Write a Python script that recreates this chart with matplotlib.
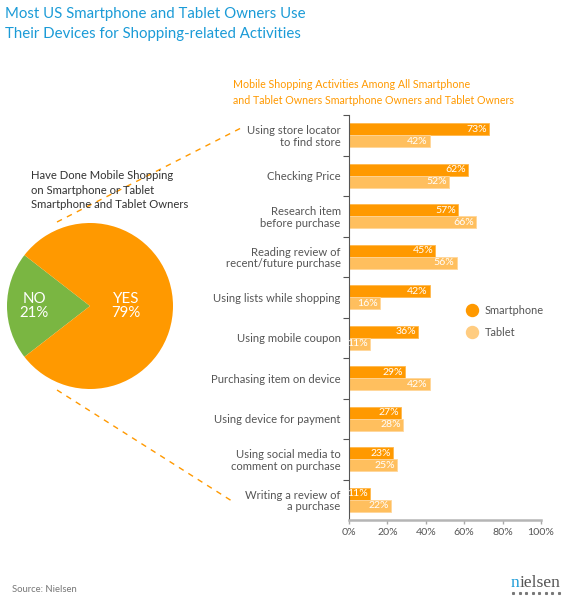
import matplotlib
matplotlib.use("Agg")
import matplotlib.pyplot as plt
from matplotlib.lines import Line2D
import numpy as np

W, H = 566, 599
plt.rcParams['font.family'] = ['Lato', 'DejaVu Sans']

categories = [
    "Using store locator\nto find store",
    "Checking Price",
    "Research item\nbefore purchase",
    "Reading review of\nrecent/future purchase",
    "Using lists while shopping",
    "Using mobile coupon",
    "Purchasing item on device",
    "Using device for payment",
    "Using social media to\ncomment on purchase",
    "Writing a review of\na purchase",
]
smartphone = [73, 62, 57, 45, 42, 36, 29, 27, 23, 11]
tablet = [42, 52, 66, 56, 16, 11, 42, 28, 25, 22]
xticks = [0, 20, 40, 60, 80, 100]
pie_labels = ["NO", "YES"]
pie_values = [21, 79]

C_SMART = '#FF9900'
C_TAB = '#FFBF5E'
C_GREEN = '#7AB642'
C_BLUE = '#1B9BD7'
C_TEXT = '#555555'

def fx(x):
    return x / W

def fy(y):
    return 1 - y / H

def px2pt(p):
    return p * 72 / 100

fig = plt.figure(figsize=(W / 100, H / 100), dpi=100)

# Titles
fig.text(fx(5), fy(14), "Most US Smartphone and Tablet Owners Use", color=C_BLUE,
         fontsize=px2pt(15), ha='left', va='center')
fig.text(fx(5), fy(34), "Their Devices for Shopping-related Activities", color=C_BLUE,
         fontsize=px2pt(15), ha='left', va='center')
fig.text(fx(233), fy(85), "Mobile Shopping Activities Among All Smartphone", color=C_SMART,
         fontsize=px2pt(10.6), ha='left', va='center')
fig.text(fx(233), fy(100), "and Tablet Owners Smartphone Owners and Tablet Owners", color=C_SMART,
         fontsize=px2pt(10.6), ha='left', va='center')
for i, t in enumerate(["Have Done Mobile Shopping", "on Smartphone or Tablet",
                       "Smartphone and Tablet Owners"]):
    fig.text(fx(31), fy(176 + 14 * i), t, color='#333333', fontsize=px2pt(11.3),
             ha='left', va='center')

# Bar chart
L, R, T, B = 349, 541, 115, 520
ax = fig.add_axes([fx(L), fy(B), fx(R - L), (B - T) / H])
y = np.arange(len(categories))
h = 0.296
ax.barh(y - h / 2, smartphone, height=h, color=C_SMART, edgecolor='#FFB84D', linewidth=0.6)
ax.barh(y + h / 2, tablet, height=h, color=C_TAB, edgecolor='#FFD699', linewidth=0.6)
for i in range(len(categories)):
    ax.text(smartphone[i] - 1.0, y[i] - h / 2, f"{smartphone[i]}%", color='white',
            fontsize=px2pt(10.5), ha='right', va='center')
    ax.text(tablet[i] - 1.0, y[i] + h / 2, f"{tablet[i]}%", color='white',
            fontsize=px2pt(10.5), ha='right', va='center')
ax.set_xlim(0, 100)
ax.set_ylim(len(categories) - 0.5, -0.5)
ax.set_yticks(y)
ax.set_yticklabels(categories, fontsize=px2pt(11.2), color=C_TEXT, linespacing=1.05)
ax.set_yticks(np.arange(-0.5, len(categories) - 0.5, 1), minor=True)
ax.tick_params(axis='y', which='major', length=0, pad=6)
ax.tick_params(axis='y', which='minor', length=4, color='#555555', width=0.8)
ax.set_xticks(xticks)
ax.set_xticklabels([f"{v}%" for v in xticks], fontsize=px2pt(10.5), color=C_TEXT)
ax.tick_params(axis='x', length=3, color='#AAAAAA', width=1, pad=3)
for s in ['top', 'right']:
    ax.spines[s].set_visible(False)
ax.spines['left'].set_color('#555555')
ax.spines['left'].set_linewidth(0.8)
ax.spines['bottom'].set_color('#B5B5B5')
ax.spines['bottom'].set_linewidth(1.8)
ax.set_facecolor('none')

# Legend
fig.add_artist(Line2D([fx(472)], [fy(310)], marker='o', markersize=px2pt(12),
                      color=C_SMART, linestyle='none', transform=fig.transFigure))
fig.add_artist(Line2D([fx(472)], [fy(332)], marker='o', markersize=px2pt(12),
                      color='#FFCC80', linestyle='none', transform=fig.transFigure))
fig.text(fx(485), fy(310), "Smartphone", color=C_TEXT, fontsize=px2pt(11), ha='left', va='center')
fig.text(fx(485), fy(332), "Tablet", color=C_TEXT, fontsize=px2pt(11), ha='left', va='center')

# Pie
cx, cy, r = 90, 306, 83
pax = fig.add_axes([fx(cx - r), fy(cy + r), 2 * r / W, 2 * r / H])
start = 180 - pie_values[0] / 100 * 360 / 2
wedges, _ = pax.pie(pie_values, colors=[C_GREEN, C_SMART], startangle=start,
                    counterclock=True, radius=1)
pax.set_xlim(-1, 1)
pax.set_ylim(-1, 1)
pax.set_aspect('auto')
pax.axis('off')
fig.text(fx(34), fy(306), f"{pie_labels[0]}\n{pie_values[0]}%", color='white',
         fontsize=px2pt(15), ha='center', va='center', linespacing=1.0)
fig.text(fx(126), fy(306), f"{pie_labels[1]}\n{pie_values[1]}%", color='white',
         fontsize=px2pt(15), ha='center', va='center', linespacing=1.0)

# Dashed connectors
fig.add_artist(Line2D([fx(57), fx(243)], [fy(222), fy(127)], color=C_SMART,
                      linestyle=(0, (4, 4)), linewidth=1, transform=fig.transFigure))
fig.add_artist(Line2D([fx(57), fx(235)], [fy(390), fy(503)], color=C_SMART,
                      linestyle=(0, (4, 4)), linewidth=1, transform=fig.transFigure))

# Footer
fig.text(fx(12), fy(590), "Source: Nielsen", color='#777777', fontsize=px2pt(9.5),
         ha='left', va='center')
fig.text(fx(511), fy(583), "n", color=C_BLUE, fontsize=px2pt(17.5), ha='left', va='center',
         family='Liberation Serif')
fig.text(fx(519.8), fy(583), "ielsen", color='#555555', fontsize=px2pt(17.5), ha='left', va='center',
         family='Liberation Serif')
dots_x = np.linspace(513, 559, 8)
fig.add_artist(Line2D(fx(dots_x), fy(np.full(8, 593)), color='#777777', marker='s',
                      markersize=1.2, linestyle='none', transform=fig.transFigure))

fig.savefig("out.png", dpi=100)
